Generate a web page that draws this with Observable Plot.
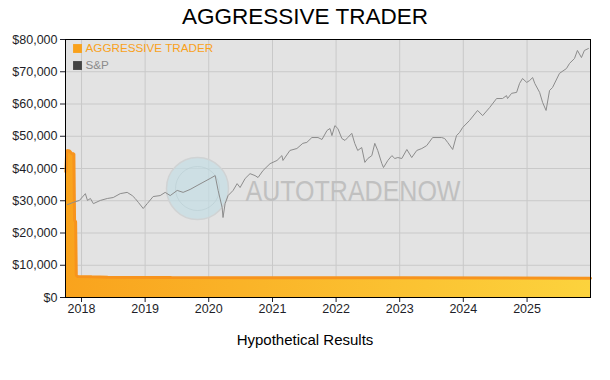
<!DOCTYPE html>
<html>
<head>
<meta charset="utf-8">
<script src="https://cdn.jsdelivr.net/npm/d3@7"></script>
<script src="https://cdn.jsdelivr.net/npm/@observablehq/plot@0.6"></script>
<style>
  body { margin: 0; background: #fff; font-family: "Liberation Sans", Arial, sans-serif; }
  #wrap { width: 610px; }
  #title { height: 34px; line-height: 34px; text-align: center; font-size: 22.5px; color: #000; }
  #caption { height: 36px; line-height: 36px; text-align: center; font-size: 15px; color: #000; }
  svg { display: block; }
</style>
</head>
<body>
<div id="wrap">
  <div id="title">AGGRESSIVE TRADER</div>
  <div id="chart"></div>
  <div id="caption">Hypothetical Results</div>
</div>
<script>
// ---- Data ----
const seriesNames = ["AGGRESSIVE TRADER", "S&P"];

const traderDates = ["2017-10-03","2017-10-08","2017-10-25","2017-11-06","2017-11-18","2017-11-22","2017-11-28","2017-12-02","2017-12-10","2018-03-01","2018-06-01","2019-06-01","2021-01-01","2023-01-01","2025-12-31"];
const traderValues = [39000,45600,45400,44600,44600,24000,23500,6800,6500,6400,6300,6200,6150,6100,6000];

const spDates = ["2017-10-12","2017-11-15","2017-12-20","2018-01-23","2018-02-04","2018-02-21","2018-03-10","2018-04-19","2018-05-29","2018-07-02","2018-08-11","2018-09-20","2018-10-19","2018-11-05","2018-11-23","2018-12-21","2019-01-13","2019-02-16","2019-03-28","2019-04-26","2019-05-25","2019-07-04","2019-08-07","2019-09-16","2019-10-26","2019-11-29","2020-01-09","2020-02-07","2020-02-24","2020-03-18","2020-03-23","2020-04-04","2020-04-21","2020-05-20","2020-06-12","2020-06-29","2020-07-28","2020-08-25","2020-09-23","2020-10-10","2020-11-08","2020-12-18","2021-01-27","2021-02-24","2021-03-02","2021-04-11","2021-05-21","2021-06-24","2021-07-17","2021-08-15","2021-09-19","2021-10-12","2021-11-10","2021-11-27","2021-12-08","2021-12-25","2022-01-11","2022-02-03","2022-02-21","2022-03-09","2022-04-01","2022-04-18","2022-05-05","2022-05-28","2022-06-15","2022-07-02","2022-07-25","2022-08-11","2022-08-28","2022-09-20","2022-09-30","2022-10-25","2022-11-17","2022-12-04","2022-12-21","2023-01-13","2023-02-11","2023-03-11","2023-04-09","2023-05-08","2023-06-05","2023-07-09","2023-08-30","2023-09-16","2023-10-03","2023-11-01","2023-11-23","2023-12-11","2023-12-28","2024-02-06","2024-03-23","2024-04-21","2024-05-31","2024-07-10","2024-08-13","2024-09-05","2024-09-11","2024-10-04","2024-11-02","2024-11-19","2024-12-06","2024-12-30","2025-01-16","2025-02-02","2025-02-14","2025-03-14","2025-03-31","2025-04-20","2025-05-10","2025-05-27","2025-07-06","2025-08-15","2025-09-02","2025-09-30","2025-10-17","2025-11-09","2025-11-26","2025-12-19"];
const spValues = [28800,29500,30100,32200,30100,30700,29100,30100,30700,31000,32200,32600,31600,30700,29500,27600,29100,31300,31600,32600,31600,33200,32600,33500,34700,35700,36900,37800,33200,27900,24800,29100,31600,33200,35300,34100,36900,38400,37800,37200,39400,41500,42500,44000,42500,45600,46200,47800,48100,49600,49600,49000,51800,52400,50200,53300,52400,49300,48700,49600,50900,47800,45600,46500,41900,43100,44000,47800,45600,41600,40300,42500,44000,43100,43400,43100,45900,43400,45600,46200,47100,49600,49600,49300,48100,45900,50200,51200,52700,54900,58000,56400,58900,61700,61700,62600,61700,63300,63600,66400,67900,66700,67300,68200,66400,63600,60500,58000,64200,65100,69500,71000,72600,74100,76600,74400,76600,77200];

const xDomain = ["2017-10-01", "2025-12-31"];
const xTicks = ["2018-01-01","2019-01-01","2020-01-01","2021-01-01","2022-01-01","2023-01-01","2024-01-01","2025-01-01"];
const yTicks = [0,10000,20000,30000,40000,50000,60000,70000,80000];
const watermarkText = "AUTOTRADENOW";

// ---- Build tables ----
const parse = d3.utcParse("%Y-%m-%d");
const trader = traderDates.map((d, i) => ({date: parse(d), value: traderValues[i]}));
const sp = spDates.map((d, i) => ({date: parse(d), value: spValues[i]}));
const xt = xTicks.map(parse);
const fmtMoney = d => "$" + d3.format(",")(d);

const orange = "#f9a11b";

const plot = Plot.plot({
  width: 610,
  height: 288,
  marginLeft: 65,
  marginRight: 20,
  marginTop: 5,
  marginBottom: 25,
  style: {fontFamily: "'Liberation Sans', Arial, sans-serif", fontSize: "12.5px", color: "#1e1e28", background: "#fff", overflow: "visible"},
  x: {type: "utc", domain: xDomain.map(parse), ticks: xt, tickFormat: d3.utcFormat("%Y"), tickSize: 5, tickPadding: 2, label: null},
  y: {domain: [0, 80000], ticks: yTicks, tickFormat: fmtMoney, tickSize: 5, tickPadding: 3, label: null},
  marks: [
    Plot.frame({fill: "#e3e3e3", stroke: "none"}),
    Plot.ruleX(xt, {stroke: "#c9c9c9", strokeWidth: 1}),
    Plot.ruleY(yTicks, {stroke: "#c9c9c9", strokeWidth: 1}),
    // watermark (globe + text)
    Plot.dot([0], {frameAnchor: "middle", dx: -130.5, dy: 20, r: 31, fill: "#c3dde4", fillOpacity: 0.7, stroke: "#d0d3d4", strokeWidth: 1.5}),
    Plot.dot([0], {frameAnchor: "middle", dx: -130.5, dy: 20, r: 22, fill: "none", stroke: "#b9cdd2", strokeOpacity: 0.6, strokeWidth: 1}),
    Plot.text([watermarkText], {text: d => d, frameAnchor: "middle", dx: 25, dy: 23, fill: "#c0c0c0", fontSize: 30, textAnchor: "middle", lineAnchor: "middle"}),
    // series
    Plot.areaY(trader, {x: "date", y: "value", fill: "url(#ogGrad)", stroke: "none"}),
    Plot.lineY(trader, {x: "date", y: "value", stroke: "#f7941d", strokeWidth: 3, strokeLinejoin: "miter"}),
    Plot.lineY(sp, {x: "date", y: "value", stroke: "#8c8c8c", strokeWidth: 1}),
    Plot.frame({stroke: "#000", strokeWidth: 1}),
    // legend
    Plot.dot([seriesNames[0]], {frameAnchor: "top-left", dx: 12, dy: 9, symbol: "square", r: 5, fill: orange}),
    Plot.text([seriesNames[0]], {text: d => d, frameAnchor: "top-left", dx: 20, dy: 9, textAnchor: "start", lineAnchor: "middle", fill: orange, fontSize: 11.7}),
    Plot.dot([seriesNames[1]], {frameAnchor: "top-left", dx: 12, dy: 26, symbol: "square", r: 5, fill: "#444"}),
    Plot.text([seriesNames[1]], {text: d => d, frameAnchor: "top-left", dx: 20, dy: 26, textAnchor: "start", lineAnchor: "middle", fill: "#8c8c8c", fontSize: 11.7})
  ]
});

const svg = d3.select(plot.tagName.toLowerCase() === "svg" ? plot : plot.querySelector("svg"));
svg.insert("defs", ":first-child").html(
  '<linearGradient id="ogGrad" x1="0" x2="1" y1="0" y2="0">' +
  '<stop offset="0" stop-color="#f9a31d"/><stop offset="1" stop-color="#fcd33d"/></linearGradient>'
);
svg.selectAll("text").filter(function() { return this.textContent === watermarkText; })
  .attr("textLength", 215).attr("lengthAdjust", "spacingAndGlyphs");

document.getElementById("chart").appendChild(plot);
</script>
</body>
</html>
